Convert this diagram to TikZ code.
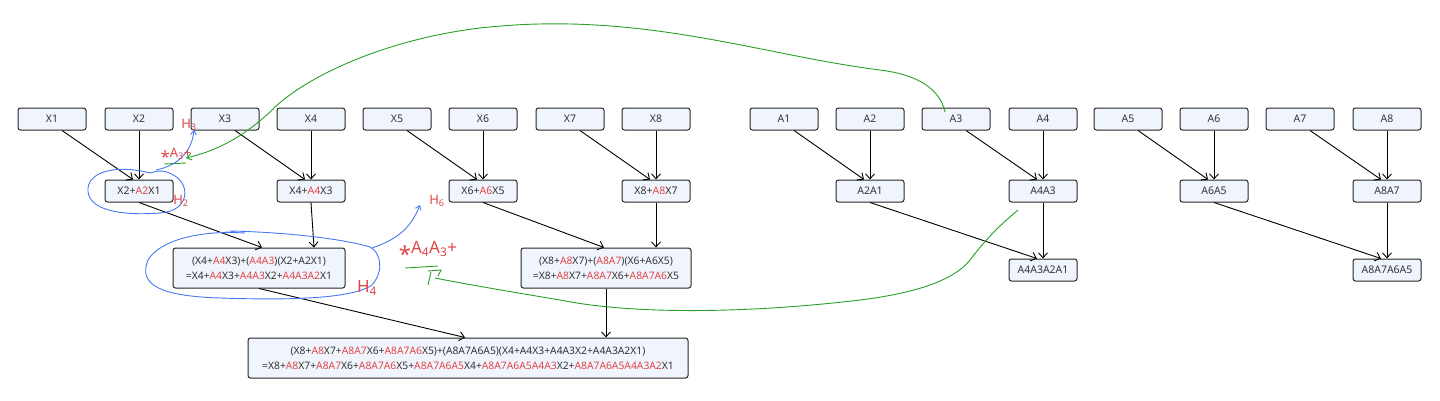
\documentclass[tikz,border=0pt]{standalone}
\usepackage{fontspec}
\setmainfont{Noto Sans}
\usetikzlibrary{arrows.meta}
\definecolor{boxfill}{RGB}{240,244,252}
\definecolor{rd}{RGB}{225,70,70}
\definecolor{bl}{RGB}{70,120,240}
\definecolor{gr}{RGB}{40,160,40}
\newcommand{\R}[1]{\textcolor{rd}{#1}}
\begin{document}
\begin{tikzpicture}[x=1pt,y=-1pt,
  box/.style={draw=black!85,line width=1pt,rounded corners=2.5pt,fill=boxfill,minimum width=68pt,minimum height=22pt,font=\fontsize{10.5}{12}\selectfont,text=black!80,inner sep=2pt},
  big/.style={box,align=center,font=\fontsize{10.3}{15}\selectfont},
  ar/.style={-{Straight Barb[length=5pt,width=9pt]},line width=0.9pt},
  hand/.style={line width=0.9pt},
  note/.style={text=rd,inner sep=0pt,font=\fontsize{13}{13}\selectfont}]
\useasboundingbox (0,0) rectangle (1440,400);
\foreach \n/\x in {X1/52,X2/139,X3/225,X4/311,X5/397,X6/483,X7/570,X8/656,A1/784,A2/870,A3/956,A4/1043,A5/1128,A6/1214,A7/1300,A8/1387}
  \node[box] (\n) at (\x,119) {\n};
\node[box] (h2) at (139,191) {X2+\R{A2}X1};
\node[box] (h4) at (311,191) {X4+\R{A4}X3};
\node[box] (h6) at (483,191) {X6+\R{A6}X5};
\node[box] (h8) at (656,191) {X8+\R{A8}X7};
\node[box] (a21) at (870,191) {A2A1};
\node[box] (a43) at (1043,191) {A4A3};
\node[box] (a65) at (1214,191) {A6A5};
\node[box] (a87) at (1387,191) {A8A7};
\node[big,minimum width=172pt,minimum height=40pt] (b1) at (259,268) {(X4+\R{A4}X3)+(\R{A4A3})(X2+A2X1)\\=X4+\R{A4}X3+\R{A4A3}X2+\R{A4A3A2}X1};
\node[big,minimum width=170pt,minimum height=40pt] (b2) at (606,268) {(X8+\R{A8}X7)+(\R{A8A7})(X6+A6X5)\\=X8+\R{A8}X7+\R{A8A7}X6+\R{A8A7A6}X5};
\node[box] (a4321) at (1043,270) {A4A3A2A1};
\node[box] (a8765) at (1387,270) {A8A7A6A5};
\node[big,minimum width=440pt,minimum height=40pt] (b3) at (468,358) {(X8+\R{A8}X7+\R{A8A7}X6+\R{A8A7A6}X5)+(A8A7A6A5)(X4+A4X3+A4A3X2+A4A3A2X1)\\=X8+\R{A8}X7+\R{A8A7}X6+\R{A8A7A6}X5+\R{A8A7A6A5}X4+\R{A8A7A6A5A4A3}X2+\R{A8A7A6A5A4A3A2}X1};
% connectors
\foreach \s/\t in {X1/h2,X3/h4,X5/h6,X7/h8,A1/a21,A3/a43,A5/a65,A7/a87}
  \draw[ar] ([xshift=10pt]\s.south) -- ([xshift=-6pt]\t.north);
\foreach \s/\t in {X2/h2,X4/h4,X6/h6,X8/h8,A2/a21,A4/a43,A6/a65,A8/a87}
  \draw[ar] (\s) -- (\t);
\draw[ar] (h2.south) -- ([xshift=3pt]b1.north);
\draw[ar] (h4.south) -- ([xshift=55pt]b1.north);
\draw[ar] (h6.south) -- ([xshift=-2pt]b2.north);
\draw[ar] (h8.south) -- ([xshift=50pt]b2.north);
\draw[ar] (a21.south) -- ([xshift=-6pt]a4321.north);
\draw[ar] (a43) -- (a4321);
\draw[ar] (a65.south) -- ([xshift=-6pt]a8765.north);
\draw[ar] (a87) -- (a8765);
\draw[ar] (b1.south) -- ([xshift=-3pt]b3.north);
\draw[ar] (b2) -- ([xshift=138pt]b3.north);
% handwritten annotations
\draw[gr,hand,-{Straight Barb[length=5pt,width=7pt]}] (945,112) .. controls (940,90) and (920,75) .. (880,70)
  .. controls (760,55) and (640,10) .. (480,28) .. controls (380,40) and (300,80) .. (270,112)
  .. controls (245,135) and (220,150) .. (186,158);
\draw[gr,hand] (164,164) -- (186,163);
\draw[gr,hand] (1018,210) .. controls (1000,225) and (985,240) .. (970,260) .. controls (950,285) and (900,295) .. (860,300)
  .. controls (760,312) and (640,316) .. (560,300) .. controls (500,290) and (460,283) .. (435,278);
\draw[gr,hand] (438,276) -- (441,270) -- (428,271);
\draw[gr,hand] (428,285) -- (431,272);
\draw[gr,hand] (405,268) -- (438,266);
\draw[bl,hand] (150,173) .. controls (120,165) and (90,170) .. (88,188) .. controls (86,210) and (120,216) .. (160,213)
  .. controls (190,211) and (190,185) .. (175,176) .. controls (165,170) and (160,170) .. (150,173);
\draw[bl,hand,-{Straight Barb[length=4pt,width=6pt]}] (156,170) .. controls (180,165) and (192,150) .. (194,130);
\draw[bl,hand] (225,232) -- (245,233) .. controls (200,230) and (160,240) .. (148,260) .. controls (138,285) and (160,296) .. (220,298)
  .. controls (280,300) and (350,300) .. (372,285) .. controls (385,270) and (380,252) .. (370,247)
  .. controls (340,238) and (280,232) .. (230,231);
\draw[bl,hand,-{Straight Barb[length=4pt,width=6pt]}] (372,248) .. controls (395,240) and (410,230) .. (420,205);
\node[note] (nH3) at (189,125) {H\textsubscript{3}};
\node[note] (nA3) at (176,154) {\textasteriskcentered A\textsubscript{3}+};
\node[note] (nH2) at (181,201) {H\textsubscript{2}};
\node[note] (nH6) at (437,201) {H\textsubscript{6}};
\node[note,font=\fontsize{17}{17}\selectfont] (nA43) at (428,249) {\textasteriskcentered A\textsubscript{4}A\textsubscript{3}+};
\node[note,font=\fontsize{17}{17}\selectfont] (nH4) at (367,288) {H\textsubscript{4}};
\end{tikzpicture}
\end{document}
